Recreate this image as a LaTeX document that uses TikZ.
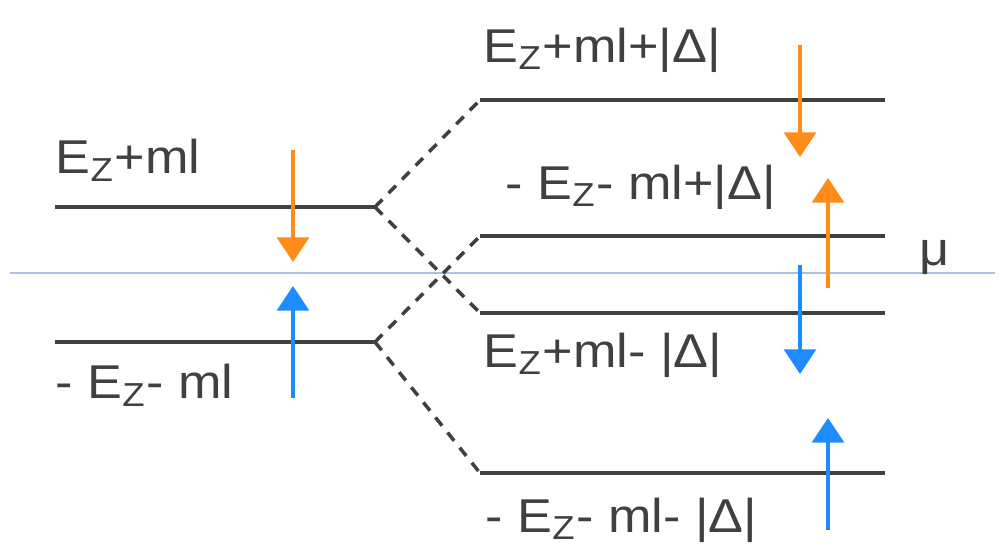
\documentclass[tikz,border=0pt]{standalone}
\usepackage{fontspec}
\setmainfont{Liberation Sans}[FakeStretch=1.1]
\usetikzlibrary{arrows.meta}
\definecolor{lev}{HTML}{404040}
\definecolor{org}{HTML}{FF8C1A}
\definecolor{blu}{HTML}{1E8CFF}
\definecolor{mul}{HTML}{A8C4E4}
\begin{document}
\begin{tikzpicture}[x=0.01cm,y=-0.01cm,
  level/.style={draw=lev,line width=1.4pt},
  conn/.style={draw=lev,line width=1pt,dashed,dash pattern=on 3pt off 2.5pt},
  spin/.style={line width=1.2pt,-{Triangle[length=7pt,width=9pt]}},
  lab/.style={font=\fontsize{13.5}{15}\selectfont,text=lev,inner sep=0pt}]
\useasboundingbox (0,0) rectangle (1000,557);
\draw[mul,line width=0.6pt] (10,273) -- (995,273);
\node[lab] (mu) at (935,258) {μ};
% left levels
\coordinate (l1a) at (55,207); \coordinate (l1) at (375,207);
\coordinate (l2a) at (55,342); \coordinate (l2) at (375,342);
\draw[level] (l1a) -- (l1);
\draw[level] (l2a) -- (l2);
% right levels
\coordinate (r1) at (480,100); \coordinate (r1b) at (885,100);
\coordinate (r2) at (480,236); \coordinate (r2b) at (885,236);
\coordinate (r3) at (480,313); \coordinate (r3b) at (885,313);
\coordinate (r4) at (480,473); \coordinate (r4b) at (885,473);
\foreach \a/\b in {r1/r1b,r2/r2b,r3/r3b,r4/r4b} \draw[level] (\a) -- (\b);
\draw[conn] (l1) -- (r1); \draw[conn] (l1) -- (r3);
\draw[conn] (l2) -- (r2); \draw[conn] (l2) -- (r4);
% labels
\node[lab,anchor=west] (t1) at (55,160) {E\textsubscript{Z}+ml};
\node[lab,anchor=west] (t2) at (55,385) {- E\textsubscript{Z}- ml};
\node[lab,anchor=west] (t3) at (483,50) {E\textsubscript{Z}+ml+|Δ|};
\node[lab,anchor=west] (t4) at (505,187) {- E\textsubscript{Z}- ml+|Δ|};
\node[lab,anchor=west] (t5) at (483,355) {E\textsubscript{Z}+ml- |Δ|};
\node[lab,anchor=west] (t6) at (485,520) {- E\textsubscript{Z}- ml- |Δ|};
% spins
\coordinate (a1) at (293,150); \coordinate (a1e) at (293,262);
\coordinate (a2) at (293,398); \coordinate (a2e) at (293,286);
\coordinate (a3) at (800,45); \coordinate (a3e) at (800,157);
\coordinate (a4) at (828,288); \coordinate (a4e) at (828,178);
\coordinate (a5) at (800,265); \coordinate (a5e) at (800,374);
\coordinate (a6) at (828,530); \coordinate (a6e) at (828,418);
\draw[spin,org] (a1) -- (a1e);
\draw[spin,blu] (a2) -- (a2e);
\draw[spin,org] (a3) -- (a3e);
\draw[spin,org] (a4) -- (a4e);
\draw[spin,blu] (a5) -- (a5e);
\draw[spin,blu] (a6) -- (a6e);
\end{tikzpicture}
\end{document}
